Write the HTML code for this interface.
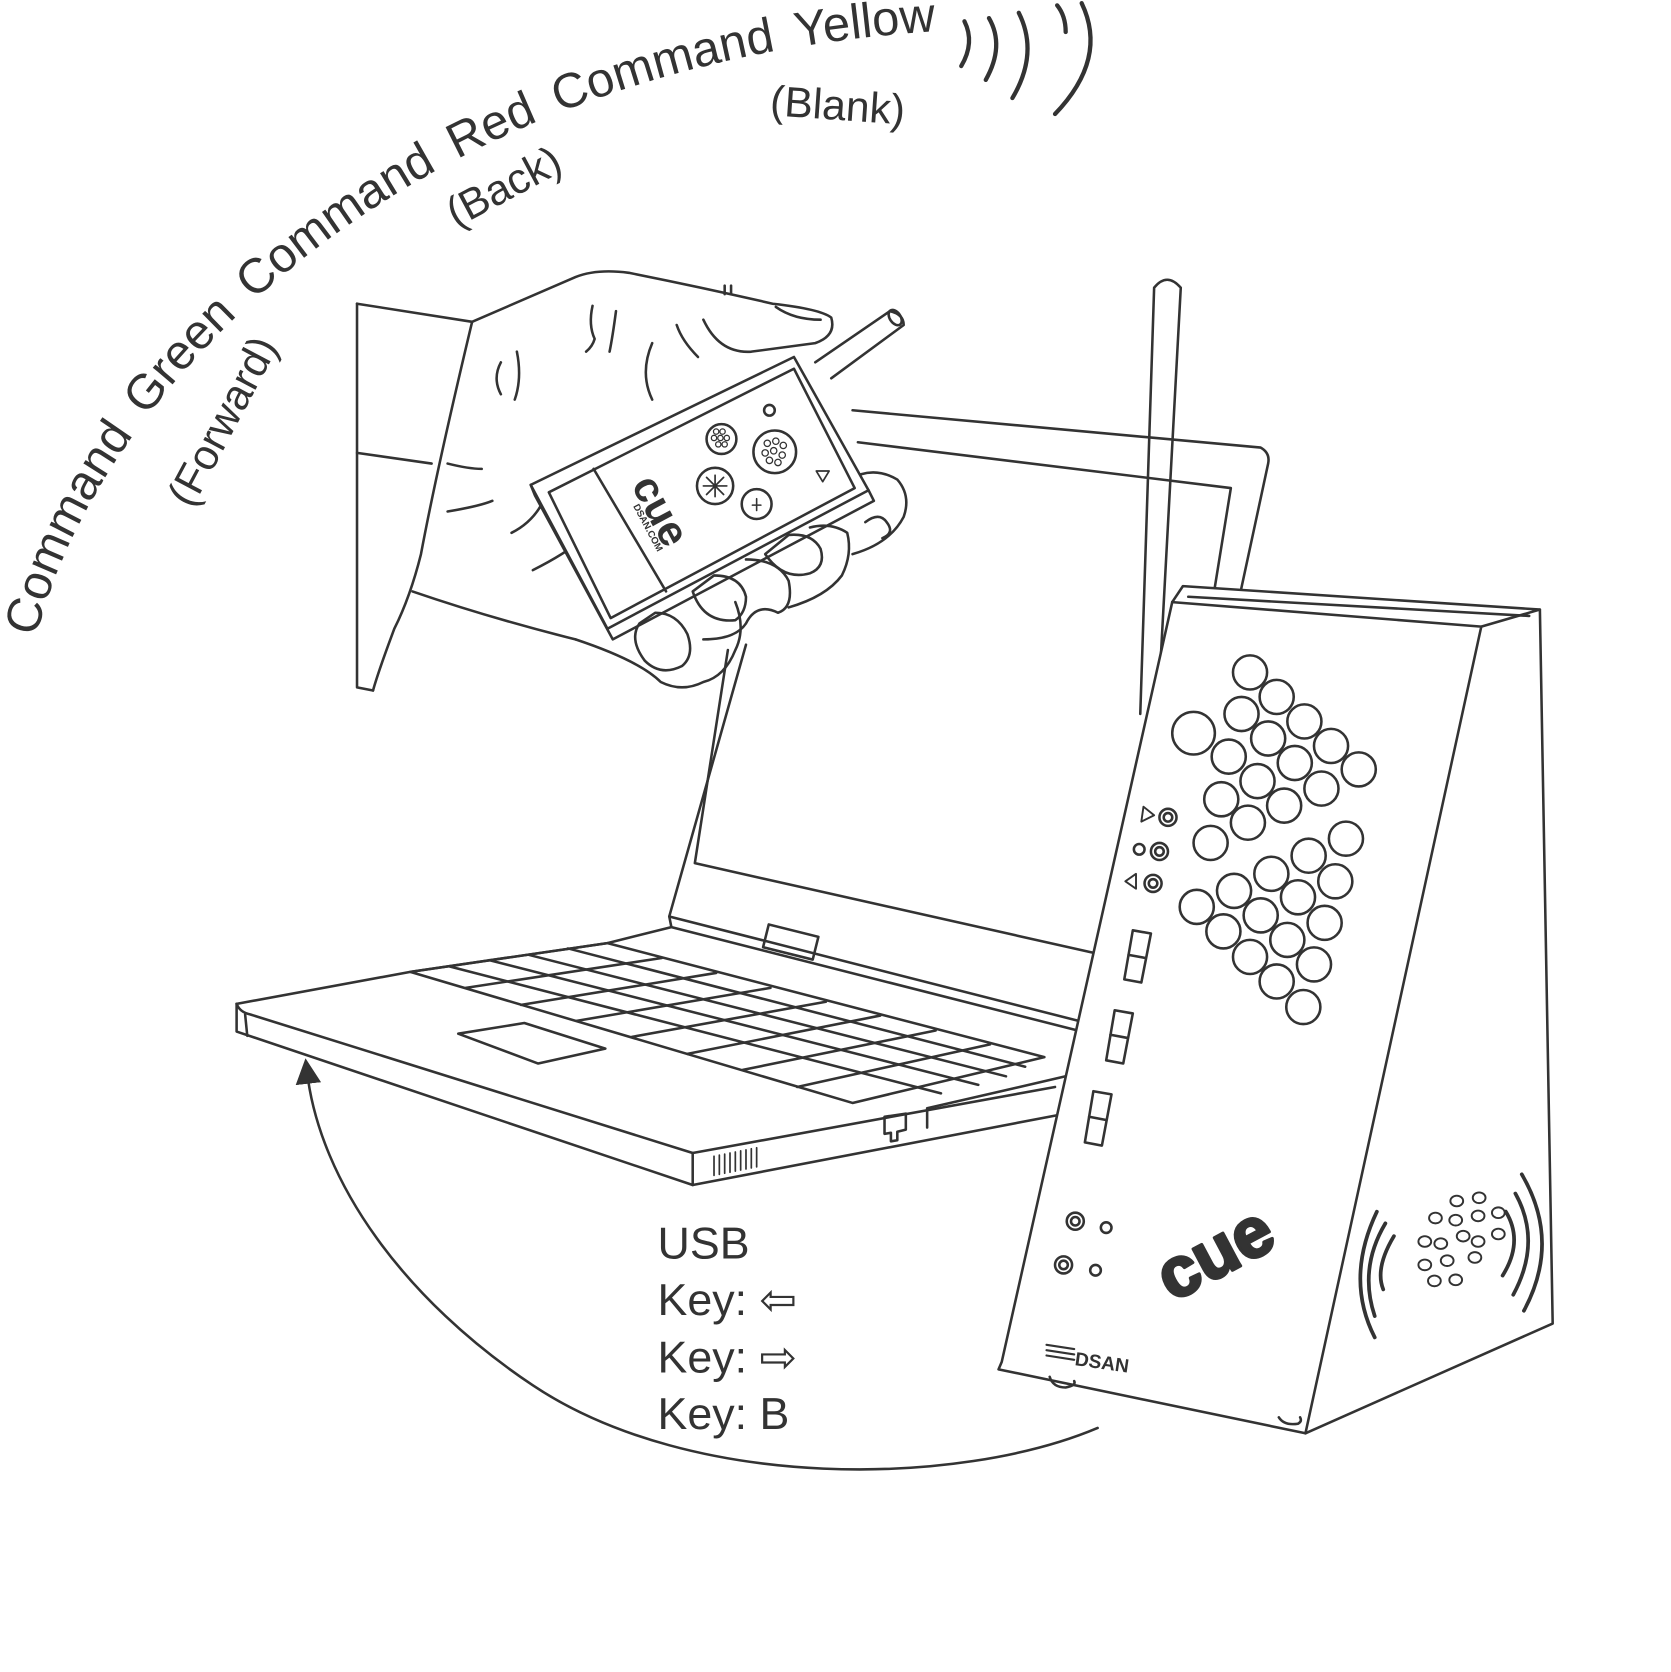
<!DOCTYPE html>
<html><head><meta charset="utf-8"><style>
html,body{margin:0;padding:0;background:#fff;}
svg{display:block;}
text{font-family:"Liberation Sans","DejaVu Sans",sans-serif;fill:#333;}
</style></head><body>
<svg width="1671" height="1672" viewBox="0 0 1568 1569" xmlns="http://www.w3.org/2000/svg">
<defs>
<path id="arc1" d="M 34,598 C 88,375 375,50 905,28"/>
<marker id="ah" markerWidth="10" markerHeight="10" refX="5" refY="5" orient="auto"><path d="M0,0 L10,5 L0,10 z" fill="#333"/></marker>
</defs>
<g fill="none" stroke="#333" stroke-width="2.4" stroke-linejoin="round" stroke-linecap="round">

<!-- top text -->
<text font-size="46" stroke="none" word-spacing="8"><textPath href="#arc1">Command Green Command Red Command Yellow</textPath></text>
<text x="0" y="0" font-size="40" stroke="none" transform="translate(180,478) rotate(-62)">(Forward)</text>
<text x="0" y="0" font-size="40" stroke="none" transform="translate(428,214) rotate(-28)">(Back)</text>
<text x="0" y="0" font-size="40" stroke="none" transform="translate(722,108) rotate(4)">(Blank)</text>

<!-- radio waves top -->
<g stroke-width="4">
<path d="M905,20 Q915,40 902,62"/>
<path d="M928,17 Q943,43 925,75"/>
<path d="M956,12 Q975,50 950,92"/>
<path d="M992,5 Q1000,15 1000,30"/>
<path d="M1015,3 Q1040,55 990,107"/>
</g>

<!-- laptop lid -->
<path d="M800,385 L1183,420 Q1192,425 1190,435 L1090,900"/>
<path d="M805,415 L1155,458 L1090,860"/>
<path d="M700,605 L628,860 L1020,960"/>
<path d="M683,610 L652,810 L1030,895"/>
<path d="M628,860 L630,870 L1015,968"/>
<rect x="718" y="873" width="48" height="22" transform="rotate(14 742 884)"/>

<!-- laptop base -->
<path d="M222,942 L385,912 L570,885 L630,870"/>
<path d="M222,942 L222,968 L650,1112 L1000,1045"/>
<path d="M222,942 Q225,950 235,952 L650,1082 L990,1020"/>
<path d="M650,1082 L650,1112"/>
<path d="M230,952 L232,972"/>
<!-- keyboard -->
<path d="M385,912 L570,885 L980,992 L800,1035 Z"/>
<path d="M422,907 L883,1026 M459,901 L918,1018 M496,896 L944,1010 M533,890 L962,1001"/>
<path d="M437,927 L621,899 M489,943 L672,913 M541,958 L723,927 M593,973 L775,940 M645,989 L826,953 M697,1004 L878,967 M748,1020 L929,980"/>
<!-- touchpad -->
<path d="M430,970 L492,960 L568,984 L505,998 Z"/>
<!-- vent -->
<g stroke-width="1.6"><path d="M670,1085 v18 M675,1084 v18 M680,1083 v18 M685,1082 v18 M690,1081 v18 M695,1080 v18 M700,1079 v18 M705,1078 v18 M710,1077 v18"/></g>
<path d="M830,1048 L850,1045 L850,1060 L842,1062 L842,1070 L836,1071 L836,1063 L830,1064 Z"/>
<path d="M870,1040 L1000,1010 M870,1040 L870,1058"/>

<!-- antenna -->
<path d="M1070,670 L1083,270 Q1095,255 1108,270 L1088,640"/>

<!-- hand -->
<path d="M335,285 L443,302"/>
<path d="M335,285 L335,645 L350,648"/>
<path d="M335,425 L405,435"/>
<path d="M443,302 Q410,440 395,520 Q385,560 370,590 Q355,630 350,648"/>
<path d="M443,302 L540,260 Q560,252 590,256 Q660,270 725,285 Q770,290 780,298 Q785,315 765,322 L705,330 Q675,332 660,300"/>
<path d="M728,288 Q745,300 770,300"/>
<path d="M655,335 Q640,320 635,305"/>
<path d="M612,322 Q600,350 612,375"/>
<path d="M387,555 Q460,580 540,600"/>
<path d="M420,435 Q440,440 452,440 M420,480 Q450,475 462,470 M480,500 Q500,490 510,470 M500,535 Q530,520 548,505"/>
<path d="M556,287 Q552,305 558,318 Q556,325 550,330 M578,292 Q575,315 572,330"/>
<path d="M470,340 Q462,355 470,370 M485,330 Q490,355 483,375"/>
<path d="M680,268 v8 M686,268 v8"/>
<!-- fingers -->
<path d="M540,600 Q600,620 620,640 Q640,650 660,640 Q680,635 690,610 Q700,590 690,565"/>
<path d="M600,585 Q590,600 605,620 Q620,635 640,625 Q652,615 645,595 Q635,575 615,575 Z" fill="#fff"/>
<path d="M660,600 Q690,600 700,585 Q710,565 730,575 Q745,570 740,545 Q730,525 700,525"/>
<path d="M650,555 Q660,585 690,582 Q700,575 700,560 Q695,540 670,540 Z"/>
<path d="M740,570 Q775,560 790,540 Q800,520 795,500 Q780,490 760,495"/>
<path d="M718,520 Q735,545 760,538 Q775,532 770,515 Q762,500 740,502 Z"/>
<path d="M800,520 Q835,510 848,485 Q855,465 842,450 Q825,440 808,445"/>
<path d="M812,490 Q825,480 832,490 Q840,500 828,505"/>
<!-- remote antenna -->
<path d="M765,340 L835,292 Q848,295 848,305 L780,355"/>
<ellipse cx="840" cy="298" rx="5" ry="8" transform="rotate(-35 840 298)"/>
<!-- remote -->
<path fill="#fff" d="M498,455 L745,335 L815,460 L570,590 Z"/>
<path d="M498,455 L502,465 L575,600 L820,470 L815,460"/>
<path d="M515,462 L745,346 L802,458 L573,580 Z"/>
<path d="M557,440 L625,555"/>
<circle cx="722" cy="385" r="5"/>
<circle cx="677" cy="412" r="14"/>
<circle cx="727" cy="424" r="20"/>
<circle cx="671" cy="456" r="17"/>
<circle cx="710" cy="473" r="14"/>
<path d="M706,474 h8 M710,468 v11" stroke-width="1.5"/>
<path d="M660,456 L682,456 M671,446 L671,466 M663,448 L679,464 M663,464 L679,448" stroke-width="1.6"/>
<path d="M766,442 L778,442 L772,452 Z" stroke-width="1.6"/>
<g stroke-width="1.2">
<circle cx="672" cy="405" r="2.5"/><circle cx="678" cy="405" r="2.5"/><circle cx="670" cy="411" r="2.5"/><circle cx="676" cy="411" r="2.5"/><circle cx="682" cy="411" r="2.5"/><circle cx="674" cy="417" r="2.5"/><circle cx="680" cy="417" r="2.5"/>
<circle cx="720" cy="416" r="3"/><circle cx="728" cy="414" r="3"/><circle cx="735" cy="418" r="3"/><circle cx="718" cy="425" r="3"/><circle cx="726" cy="423" r="3"/><circle cx="734" cy="427" r="3"/><circle cx="722" cy="432" r="3"/><circle cx="730" cy="434" r="3"/>
</g>
<text stroke="none" font-size="40" font-weight="bold" transform="translate(592,455) rotate(62)" style="fill:#333">cue</text>
<text stroke="none" font-size="9" font-weight="bold" transform="translate(594,475) rotate(62)" style="fill:#333">DSAN.COM</text>

<!-- cue device -->
<path fill="#fff" d="M1100,565 L1110,550 L1445,572 L1457,1242 L1225,1345 L937,1285 Z" stroke="none"/>
<path d="M1100,565 L1390,588 L1225,1345"/>
<path d="M1100,565 L1110,550 L1445,572 L1390,588"/>
<path d="M1445,572 L1457,1242 L1225,1345"/>
<path d="M1100,565 L940,1278 L937,1285 L1225,1345"/>
<path d="M1115,560 L1435,578"/>
<path d="M985,1292 Q988,1302 1000,1302 Q1010,1300 1008,1296 M1200,1330 Q1205,1338 1218,1336 Q1222,1334 1220,1330"/>
<!-- holes -->
<g>
<circle cx="1173" cy="631" r="16"/><circle cx="1198" cy="654" r="16"/><circle cx="1120" cy="688" r="20"/><circle cx="1165" cy="670" r="16"/><circle cx="1190" cy="693" r="16"/><circle cx="1224" cy="677" r="16"/><circle cx="1153" cy="710" r="16"/><circle cx="1215" cy="716" r="16"/><circle cx="1249" cy="700" r="16"/><circle cx="1275" cy="722" r="16"/><circle cx="1180" cy="733" r="16"/><circle cx="1146" cy="750" r="16"/><circle cx="1205" cy="756" r="16"/><circle cx="1240" cy="740" r="16"/><circle cx="1171" cy="772" r="16"/><circle cx="1136" cy="791" r="16"/><circle cx="1263" cy="787" r="16"/><circle cx="1228" cy="803" r="16"/><circle cx="1193" cy="820" r="16"/><circle cx="1253" cy="827" r="16"/><circle cx="1158" cy="836" r="16"/><circle cx="1218" cy="842" r="16"/><circle cx="1123" cy="851" r="16"/><circle cx="1183" cy="859" r="16"/><circle cx="1243" cy="866" r="16"/><circle cx="1148" cy="874" r="16"/><circle cx="1208" cy="882" r="16"/><circle cx="1173" cy="898" r="16"/><circle cx="1233" cy="905" r="16"/><circle cx="1198" cy="921" r="16"/><circle cx="1223" cy="945" r="16"/>
</g>
<!-- controls -->
<path d="M1073,757 L1083,765 L1071,771 Z" stroke-width="1.8"/><circle cx="1096" cy="767" r="8"/><circle cx="1096" cy="767" r="4"/>
<circle cx="1069" cy="797" r="5"/><circle cx="1088" cy="799" r="8"/><circle cx="1088" cy="799" r="4"/>
<path d="M1066,820 L1056,827 L1066,834 Z" stroke-width="1.8"/><circle cx="1082" cy="829" r="8"/><circle cx="1082" cy="829" r="4"/>
<path d="M1063,873 L1080,876 L1071,922 L1055,919 Z"/><path d="M1059,896 L1075,899"/>
<path d="M1046,948 L1063,951 L1054,998 L1038,995 Z"/><path d="M1042,971 L1058,974"/>
<path d="M1026,1024 L1043,1027 L1034,1075 L1018,1072 Z"/><path d="M1022,1048 L1038,1051"/>
<circle cx="1009" cy="1146" r="8"/><circle cx="1009" cy="1146" r="4"/><circle cx="1038" cy="1152" r="5"/>
<circle cx="998" cy="1187" r="8"/><circle cx="998" cy="1187" r="4"/><circle cx="1028" cy="1192" r="5"/>
<text stroke="#333" stroke-width="3" font-size="66" font-weight="bold" transform="translate(1100,1222) rotate(-28)" style="fill:#333">cue</text>
<text stroke="none" font-size="18" font-weight="bold" transform="translate(1008,1281) rotate(8)" style="fill:#333">DSAN</text>
<path d="M982,1262 L1008,1266 M982,1267 L1008,1271 M982,1272 L1008,1276" stroke-width="2"/>
<!-- side speaker -->
<g stroke-width="1.8">
<ellipse cx="1367" cy="1127" rx="6" ry="5"/><ellipse cx="1388" cy="1124" rx="6" ry="5"/>
<ellipse cx="1347" cy="1143" rx="6" ry="5"/><ellipse cx="1366" cy="1145" rx="6" ry="5"/><ellipse cx="1387" cy="1141" rx="6" ry="5"/><ellipse cx="1406" cy="1138" rx="6" ry="5"/>
<ellipse cx="1337" cy="1165" rx="6" ry="5"/><ellipse cx="1352" cy="1167" rx="6" ry="5"/><ellipse cx="1373" cy="1160" rx="6" ry="5"/><ellipse cx="1387" cy="1165" rx="6" ry="5"/><ellipse cx="1406" cy="1158" rx="6" ry="5"/>
<ellipse cx="1337" cy="1187" rx="6" ry="5"/><ellipse cx="1358" cy="1183" rx="6" ry="5"/><ellipse cx="1384" cy="1180" rx="6" ry="5"/>
<ellipse cx="1346" cy="1202" rx="6" ry="5"/><ellipse cx="1366" cy="1201" rx="6" ry="5"/>
</g>
<g stroke-width="3.5">
<path d="M1410,1197 Q1430,1165 1413,1137"/>
<path d="M1422,1120 Q1447,1165 1420,1215"/>
<path d="M1428,1102 Q1465,1165 1430,1230"/>
<path d="M1308,1160 Q1290,1190 1298,1210"/>
<path d="M1300,1148 Q1275,1190 1290,1235"/>
<path d="M1292,1137 Q1262,1200 1290,1255"/>
</g>

<!-- USB arc -->
<path d="M1030,1340 C 900,1395 650,1400 500,1300 C 380,1220 300,1110 288,1005" marker-end="url(#ah)"/>
</g>
<g font-size="42">
<text x="617" y="1181">USB</text>
<text x="617" y="1234">Key: ⇦</text>
<text x="617" y="1288">Key: ⇨</text>
<text x="617" y="1341">Key: B</text>
</g>
</svg>
</body></html>
